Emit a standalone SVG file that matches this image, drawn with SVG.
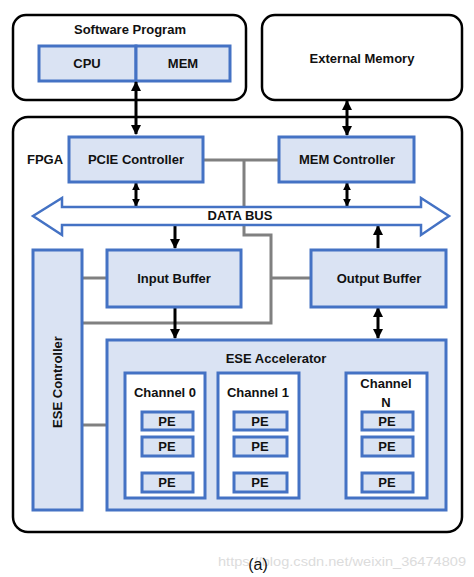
<svg xmlns="http://www.w3.org/2000/svg" width="474" height="577" viewBox="0 0 474 577">
<defs>
<marker id="ah" viewBox="0 0 10 10" refX="9" refY="5" markerWidth="10" markerHeight="10" markerUnits="userSpaceOnUse" orient="auto-start-reverse">
<path d="M0,0 L10,5 L0,10 z" fill="#000"/>
</marker>
<marker id="ahs" viewBox="0 0 10 10" refX="9" refY="5" markerWidth="8" markerHeight="9" markerUnits="userSpaceOnUse" orient="auto-start-reverse">
<path d="M0,0 L10,5 L0,10 z" fill="#000"/>
</marker>
<style>
.outer{fill:#fff;stroke:#000;stroke-width:2.5}
.blk{fill:#dae3f3;stroke:#4472c4;stroke-width:3}
.wbx{fill:#fff;stroke:#4472c4;stroke-width:3}
.t{font-family:"Liberation Sans",Arial,sans-serif;font-weight:bold;font-size:13px;fill:#111;text-anchor:middle}
.g{fill:none;stroke:#808080;stroke-width:3}
.a{stroke:#000;stroke-width:3;fill:none}
</style>
</defs>
<rect width="474" height="577" fill="#fff"/>

<g id="software">
<rect class="outer" x="13" y="15" width="233" height="85" rx="13"/>
<text class="t" x="130" y="34">Software Program</text>
</g>
<g id="cpu">
<rect class="blk" x="39" y="46" width="97" height="35"/>
<text class="t" x="87" y="68">CPU</text>
</g>
<g id="mem">
<rect class="blk" x="136" y="46" width="94" height="35"/>
<text class="t" x="183" y="68">MEM</text>
</g>
<g id="extmem">
<rect class="outer" x="262" y="15" width="200" height="85" rx="13"/>
<text class="t" x="362" y="63">External Memory</text>
</g>
<g id="fpga">
<rect class="outer" x="13" y="117" width="449" height="415" rx="15"/>
<text class="t" x="45" y="164">FPGA</text>
</g>

<g id="connectors">
<polyline class="g" points="203,160 279,160"/>
<polyline class="g" points="244,160 244,235 271,235 271,323 82,323"/>
<polyline class="g" points="271,278 311,278"/>
<polyline class="g" points="82,278 107,278"/>
<polyline class="g" points="82,425 107,425"/>
<line class="a" x1="136" y1="82" x2="136" y2="134" marker-start="url(#ah)" marker-end="url(#ah)"/>
<line class="a" x1="347" y1="101" x2="347" y2="135" marker-start="url(#ah)" marker-end="url(#ah)"/>
<line class="a" x1="136" y1="183" x2="136" y2="206" marker-start="url(#ahs)" marker-end="url(#ahs)"/>
<line class="a" x1="347" y1="183" x2="347" y2="206" marker-start="url(#ahs)" marker-end="url(#ahs)"/>
<line class="a" x1="175" y1="226" x2="175" y2="248" marker-end="url(#ah)"/>
<line class="a" x1="378" y1="248" x2="378" y2="226" marker-end="url(#ah)"/>
<line class="a" x1="175" y1="308" x2="175" y2="338" marker-end="url(#ah)"/>
<line class="a" x1="378" y1="308" x2="378" y2="338" marker-start="url(#ah)" marker-end="url(#ah)"/>
</g>

<g id="pcie">
<rect class="blk" x="69" y="137" width="134" height="45"/>
<text class="t" x="136" y="164">PCIE Controller</text>
</g>
<g id="memctrl">
<rect class="blk" x="279" y="137" width="135" height="45"/>
<text class="t" x="347" y="164">MEM Controller</text>
</g>
<g id="databus">
<polygon points="33,216 62,198 62,207 421,207 421,198 449,216 421,235 421,225 62,225 62,235" fill="#fff" stroke="#4472c4" stroke-width="2.5" stroke-linejoin="miter"/>
<text class="t" x="240" y="220">DATA BUS</text>
</g>
<g id="esectrl">
<rect class="blk" x="33" y="250" width="49" height="260"/>
<text class="t" transform="translate(62,382) rotate(-90)">ESE Controller</text>
</g>
<g id="inbuf">
<rect class="blk" x="107" y="250" width="134" height="57"/>
<text class="t" x="174" y="283">Input Buffer</text>
</g>
<g id="outbuf">
<rect class="blk" x="311" y="250" width="135" height="57"/>
<text class="t" x="379" y="283">Output Buffer</text>
</g>
<g id="accel">
<rect class="blk" x="107" y="340" width="339" height="170"/>
<text class="t" x="276" y="363">ESE Accelerator</text>
</g>
<g id="ch0">
<rect class="wbx" x="125" y="373" width="80" height="125"/>
<text class="t" x="165" y="397">Channel 0</text>
<rect class="blk" x="142" y="412" width="51" height="18"/><text class="t" x="167" y="426">PE</text>
<rect class="blk" x="142" y="437" width="51" height="19"/><text class="t" x="167" y="451">PE</text>
<rect class="blk" x="142" y="473" width="51" height="19"/><text class="t" x="167" y="487">PE</text>
</g>
<g id="ch1">
<rect class="wbx" x="218" y="373" width="81" height="125"/>
<text class="t" x="258" y="397">Channel 1</text>
<rect class="blk" x="234" y="412" width="53" height="18"/><text class="t" x="260" y="426">PE</text>
<rect class="blk" x="234" y="437" width="53" height="19"/><text class="t" x="260" y="451">PE</text>
<rect class="blk" x="234" y="473" width="53" height="19"/><text class="t" x="260" y="487">PE</text>
</g>
<g id="chN">
<rect class="wbx" x="346" y="373" width="81" height="125"/>
<text class="t" x="386" y="388">Channel</text>
<text class="t" x="386" y="407">N</text>
<rect class="blk" x="362" y="412" width="51" height="18"/><text class="t" x="387" y="426">PE</text>
<rect class="blk" x="362" y="437" width="51" height="19"/><text class="t" x="387" y="451">PE</text>
<rect class="blk" x="362" y="473" width="51" height="19"/><text class="t" x="387" y="487">PE</text>
</g>

<text x="218" y="566" font-family="Liberation Sans,Arial,sans-serif" font-size="13.5" fill="#dcdcdc" textLength="248" lengthAdjust="spacingAndGlyphs">https://blog.csdn.net/weixin_36474809</text>
<text x="258" y="570" font-family="Liberation Sans,Arial,sans-serif" font-size="16" fill="#111" text-anchor="middle">(a)</text>
</svg>
